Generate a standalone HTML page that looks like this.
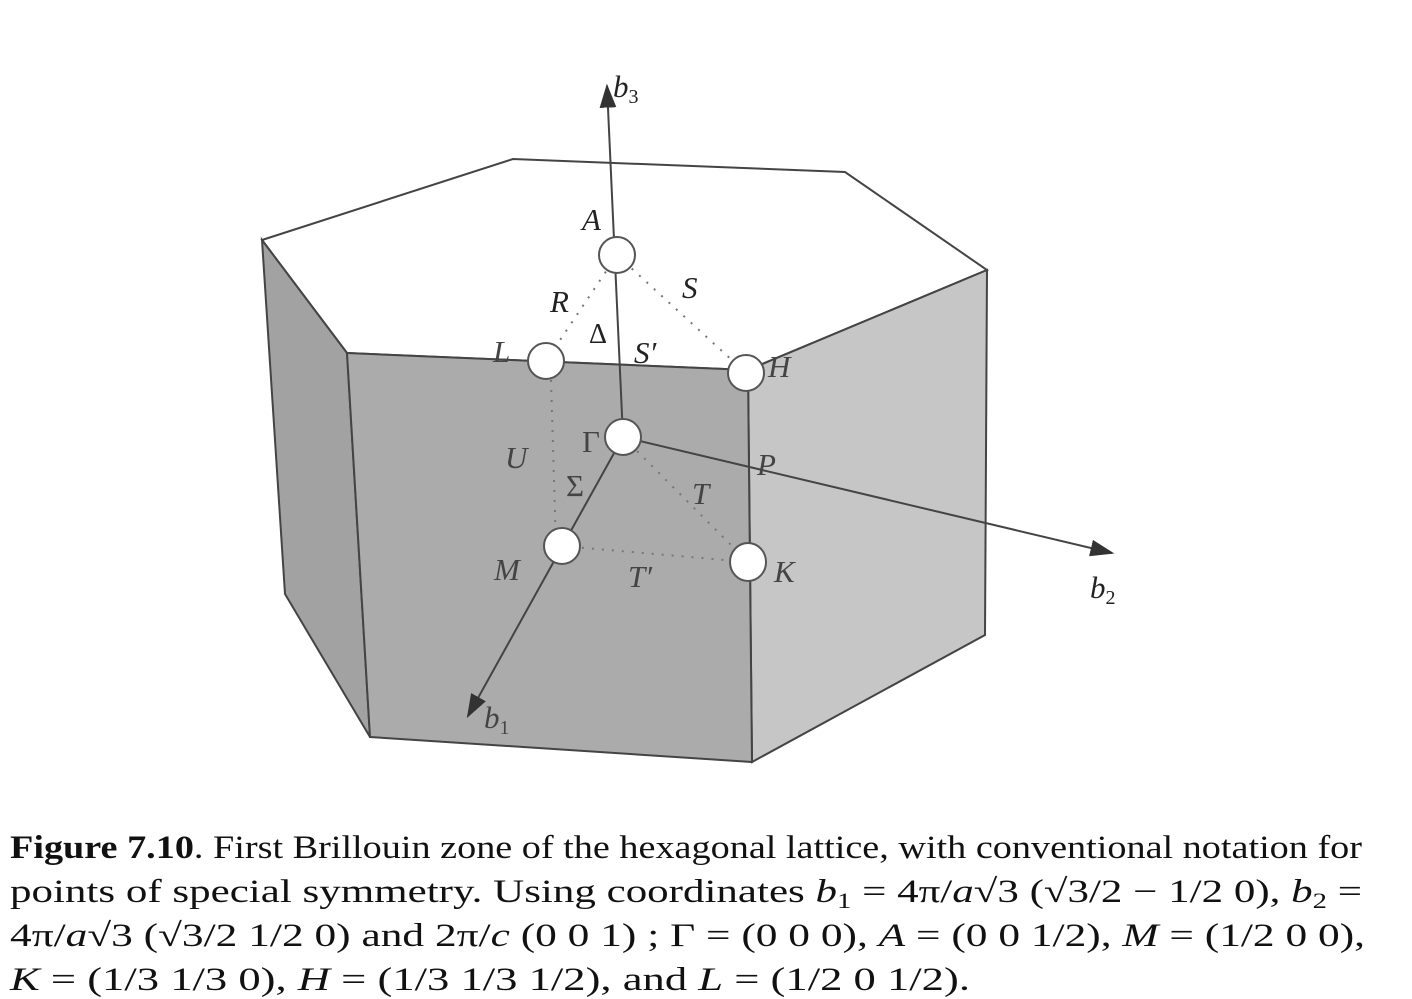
<!DOCTYPE html>
<html><head><meta charset="utf-8"><style>
html,body{margin:0;padding:0;background:#fff}
svg{display:block}
text{font-family:"Liberation Serif",serif}
</style></head><body>
<svg width="1412" height="999" viewBox="0 0 1412 999" xmlns="http://www.w3.org/2000/svg">
<defs>
<marker id="ar" viewBox="0 0 10 10" refX="9" refY="5" markerWidth="24" markerHeight="24" markerUnits="userSpaceOnUse" orient="auto">
<path d="M0,1.5 L10,5 L0,8.5 Z" fill="#333"/></marker>
</defs>
<rect width="1412" height="999" fill="#fff"/>
<polygon points="262,240 513,159 845,172 987,270 748,370 347,353" fill="#fff" stroke="#444" stroke-width="2"/>
<polygon points="262,240 347,353 370,737 285,594" fill="#a2a2a2" stroke="#444" stroke-width="2"/>
<polygon points="748,370 987,270 985,635 752,762" fill="#c6c6c6" stroke="#444" stroke-width="2"/>
<polygon points="347,353 748,370 752,762 370,737" fill="#ababab" stroke="#444" stroke-width="2"/>
<g stroke="#777" stroke-width="2" stroke-dasharray="2,8" fill="none">
<line x1="617" y1="255" x2="546" y2="361"/>
<line x1="617" y1="255" x2="746" y2="373"/>
<line x1="551" y1="380" x2="556" y2="546"/>
<line x1="623" y1="437" x2="748" y2="562"/>
<line x1="562" y1="546" x2="748" y2="562"/>
</g>
<g stroke="#444" stroke-width="2" fill="none">
<line x1="623" y1="437" x2="607" y2="86" marker-end="url(#ar)"/>
<line x1="623" y1="437" x2="1112" y2="553" marker-end="url(#ar)"/>
<line x1="623" y1="437" x2="468" y2="716" marker-end="url(#ar)"/>
</g>
<g fill="#fff" stroke="#555" stroke-width="2">
<ellipse cx="617" cy="255" rx="18" ry="18"/>
<ellipse cx="546" cy="361" rx="18" ry="18"/>
<ellipse cx="746" cy="373" rx="18" ry="18"/>
<ellipse cx="623" cy="437" rx="18" ry="18"/>
<ellipse cx="562" cy="546" rx="18" ry="18"/>
<ellipse cx="748" cy="562" rx="18" ry="19"/>
</g>
<g font-size="31" font-style="italic" fill="#222">
<text x="613" y="97">b<tspan font-size="20" dy="6" font-style="normal">3</tspan></text>
<text x="582" y="230">A</text>
<text x="550" y="312">R</text>
<text x="682" y="298">S</text>
<text x="589" y="343" font-style="normal" font-size="28">Δ</text>
<text x="634" y="363">S′</text>
<text x="493" y="362" fill="#444">L</text>
<text x="768" y="377" fill="#444">H</text>
<text x="582" y="452" font-style="normal" fill="#444">Γ</text>
<text x="505" y="468" fill="#444">U</text>
<text x="566" y="496" font-style="normal" fill="#444">Σ</text>
<text x="692" y="504" fill="#444">T</text>
<text x="757" y="475" fill="#444">P</text>
<text x="494" y="580" fill="#444">M</text>
<text x="628" y="587" fill="#444">T′</text>
<text x="774" y="582" fill="#444">K</text>
<text x="484" y="728" fill="#444">b<tspan font-size="20" dy="6" font-style="normal">1</tspan></text>
<text x="1090" y="598">b<tspan font-size="20" dy="6" font-style="normal">2</tspan></text>
</g>
<g font-size="33" fill="#111">
<text x="10" y="858" textLength="1352" lengthAdjust="spacingAndGlyphs"><tspan font-weight="bold">Figure 7.10</tspan>. First Brillouin zone of the hexagonal lattice, with conventional notation for</text>
<text x="10" y="902" textLength="1352" lengthAdjust="spacingAndGlyphs">points of special symmetry.  Using coordinates <tspan font-style="italic">b</tspan><tspan font-size="22" dy="6">1</tspan><tspan dy="-6"> = 4π/</tspan><tspan font-style="italic">a</tspan>√3 (√3/2  − 1/2  0), <tspan font-style="italic">b</tspan><tspan font-size="22" dy="6">2</tspan><tspan dy="-6"> =</tspan></text>
<text x="10" y="946" textLength="1355" lengthAdjust="spacingAndGlyphs">4π/<tspan font-style="italic">a</tspan>√3 (√3/2  1/2  0) and 2π/<tspan font-style="italic">c</tspan> (0  0  1) ; Γ = (0 0 0), <tspan font-style="italic">A</tspan> = (0  0  1/2), <tspan font-style="italic">M</tspan> = (1/2  0  0),</text>
<text x="10" y="990" textLength="960" lengthAdjust="spacingAndGlyphs"><tspan font-style="italic">K</tspan> = (1/3  1/3  0), <tspan font-style="italic">H</tspan> = (1/3  1/3  1/2), and <tspan font-style="italic">L</tspan> = (1/2  0  1/2).</text>
</g>
</svg>
</body></html>
